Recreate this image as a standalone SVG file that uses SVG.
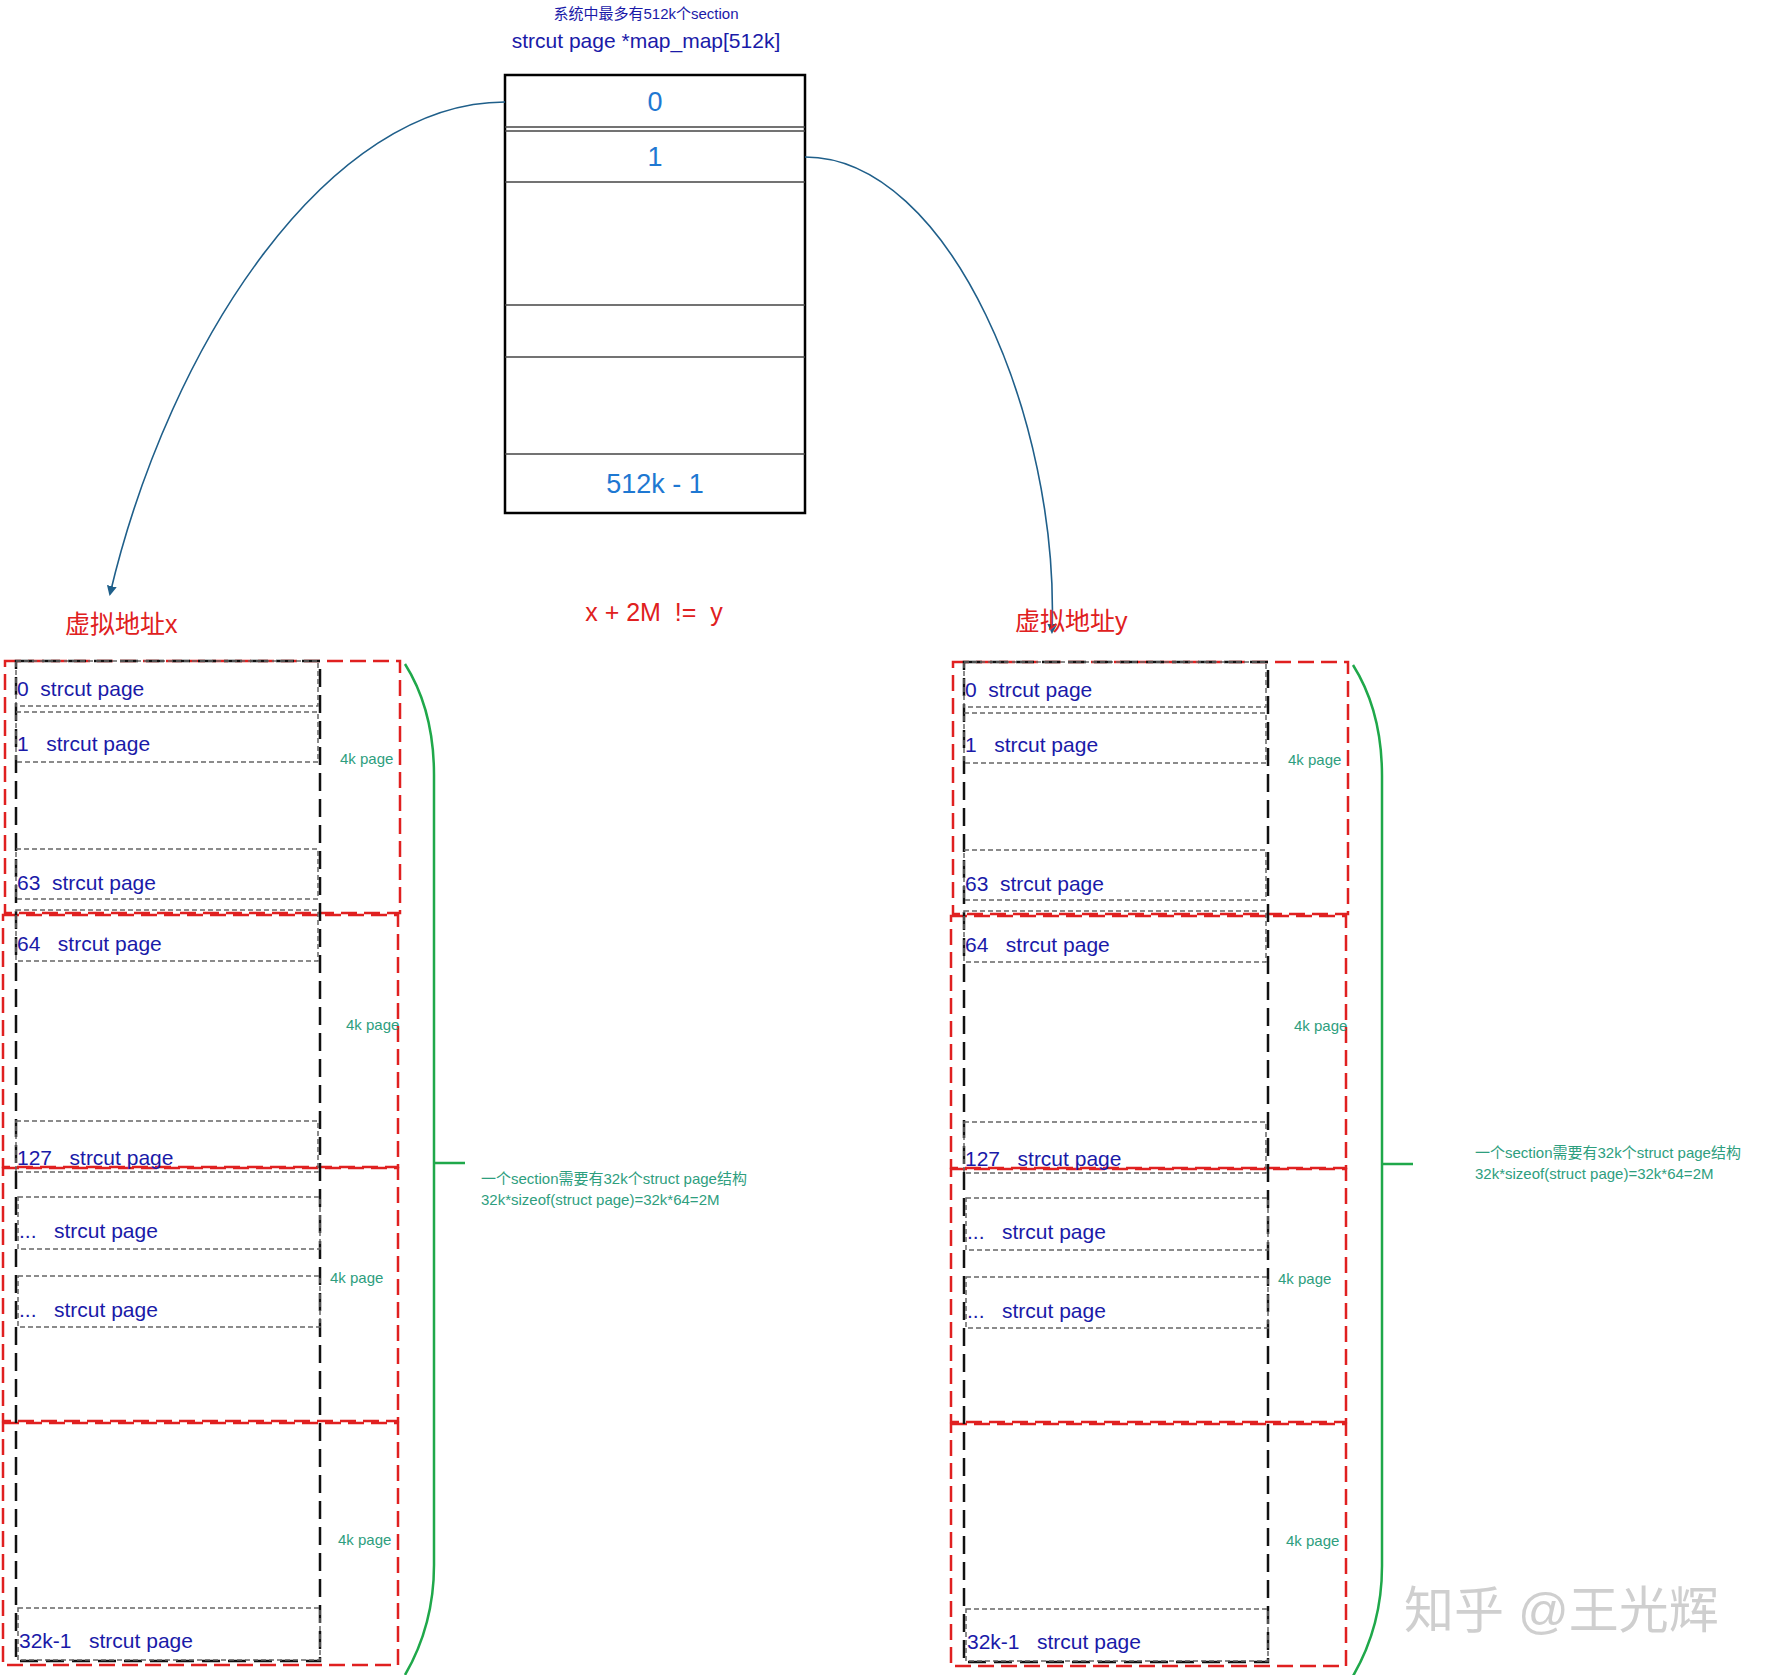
<svg xmlns="http://www.w3.org/2000/svg" width="1769" height="1675" viewBox="0 0 1769 1675">
<style>
text{font-family:"Liberation Sans","Noto Sans CJK SC",sans-serif;white-space:pre}
.cell{fill:#fff;stroke:#000;stroke-width:2.5}
.row{stroke:#444;stroke-width:1.5}
.num{fill:#1e78d2;font-size:27px;text-anchor:middle}
.red{fill:none;stroke:#e02020;stroke-width:2.5;stroke-dasharray:16 7}
.blk{fill:none;stroke:#111;stroke-width:2.5;stroke-dasharray:18 8}
.ent{fill:none;stroke:#666;stroke-width:1.5;stroke-dasharray:5 3}
.et{fill:#1a1aa8;font-size:21px}
.pg{fill:#2e9e7e;font-size:15px}
.grn{fill:none;stroke:#1fa84a;stroke-width:2.5}
.note{fill:#2e9e7e;font-size:15px}
.lab{fill:#e02020;font-size:25px}
.conn{fill:none;stroke:#1f5f8a;stroke-width:1.6}
</style>
<defs><marker id="ah" markerWidth="10" markerHeight="10" refX="8" refY="5" orient="auto" markerUnits="userSpaceOnUse"><path d="M0,0 L10,5 L0,10 z" fill="#1f5f8a"/></marker></defs>
<g id="title">
<text x="646" y="19" font-size="15" text-anchor="middle" fill="#1a1aa8">系统中最多有512k个section</text>
<text x="646" y="48" font-size="21" text-anchor="middle" fill="#1a1aa8">strcut page *map_map[512k]</text>
</g>
<g id="mapArray">
<rect class="cell" x="505" y="75" width="300" height="438"/>
<line class="row" x1="505" y1="127" x2="805" y2="127"/>
<line class="row" x1="505" y1="131" x2="805" y2="131"/>
<line class="row" x1="505" y1="182" x2="805" y2="182"/>
<line class="row" x1="505" y1="305" x2="805" y2="305"/>
<line class="row" x1="505" y1="357" x2="805" y2="357"/>
<line class="row" x1="505" y1="454" x2="805" y2="454"/>
<text class="num" x="655" y="111">0</text>
<text class="num" x="655" y="166">1</text>
<text class="num" x="655" y="493">512k - 1</text>
</g>
<g id="connectors">
<path class="conn" d="M505,102 C330,102 170,340 110,594" marker-end="url(#ah)"/>
<path class="conn" d="M805,157 C950,157 1060,420 1052,632" marker-end="url(#ah)"/>
</g>
<g id="labels">
<text class="lab" x="65" y="633">虚拟地址x</text>
<text class="lab" x="654" y="621" text-anchor="middle">x + 2M  !=  y</text>
<text class="lab" x="1015" y="630">虚拟地址y</text>
</g>
<g id="leftBlock">
<rect class="red" x="5" y="661" width="395" height="252"/>
<rect class="red" x="3" y="915" width="395" height="252"/>
<rect class="red" x="3" y="1168" width="395" height="253"/>
<rect class="red" x="3" y="1423" width="395" height="242"/>
<rect class="blk" x="16" y="661" width="304" height="1000"/>
<rect class="ent" x="16" y="661" width="302" height="45"/><text class="et" x="17" y="696">0  strcut page</text>
<rect class="ent" x="16" y="712" width="302" height="50"/><text class="et" x="17" y="751">1   strcut page</text>
<rect class="ent" x="16" y="849" width="302" height="50"/><text class="et" x="17" y="890">63  strcut page</text>
<rect class="ent" x="16" y="910" width="302" height="51"/><text class="et" x="17" y="951">64   strcut page</text>
<rect class="ent" x="16" y="1121" width="302" height="51"/><text class="et" x="17" y="1165">127   strcut page</text>
<rect class="ent" x="18" y="1197" width="302" height="52"/><text class="et" x="19" y="1238">...   strcut page</text>
<rect class="ent" x="18" y="1276" width="302" height="51"/><text class="et" x="19" y="1317">...   strcut page</text>
<rect class="ent" x="18" y="1608" width="302" height="52"/><text class="et" x="19" y="1648">32k-1   strcut page</text>
<text class="pg" x="340" y="764">4k page</text>
<text class="pg" x="346" y="1030">4k page</text>
<text class="pg" x="330" y="1283">4k page</text>
<text class="pg" x="338" y="1545">4k page</text>
<path class="grn" d="M405,664 Q434,710 434,775 L434,1565 Q434,1625 405,1675 M434,1163 L465,1163"/>
<text class="note" x="481" y="1184">一个section需要有32k个struct page结构</text>
<text class="note" x="481" y="1205">32k*sizeof(struct page)=32k*64=2M</text>
</g>
<g id="rightBlock" transform="translate(948,1)">
<rect class="red" x="5" y="661" width="395" height="252"/>
<rect class="red" x="3" y="915" width="395" height="252"/>
<rect class="red" x="3" y="1168" width="395" height="253"/>
<rect class="red" x="3" y="1423" width="395" height="242"/>
<rect class="blk" x="16" y="661" width="304" height="1000"/>
<rect class="ent" x="16" y="661" width="302" height="45"/><text class="et" x="17" y="696">0  strcut page</text>
<rect class="ent" x="16" y="712" width="302" height="50"/><text class="et" x="17" y="751">1   strcut page</text>
<rect class="ent" x="16" y="849" width="302" height="50"/><text class="et" x="17" y="890">63  strcut page</text>
<rect class="ent" x="16" y="910" width="302" height="51"/><text class="et" x="17" y="951">64   strcut page</text>
<rect class="ent" x="16" y="1121" width="302" height="51"/><text class="et" x="17" y="1165">127   strcut page</text>
<rect class="ent" x="18" y="1197" width="302" height="52"/><text class="et" x="19" y="1238">...   strcut page</text>
<rect class="ent" x="18" y="1276" width="302" height="51"/><text class="et" x="19" y="1317">...   strcut page</text>
<rect class="ent" x="18" y="1608" width="302" height="52"/><text class="et" x="19" y="1648">32k-1   strcut page</text>
<text class="pg" x="340" y="764">4k page</text>
<text class="pg" x="346" y="1030">4k page</text>
<text class="pg" x="330" y="1283">4k page</text>
<text class="pg" x="338" y="1545">4k page</text>
<path class="grn" d="M405,664 Q434,710 434,775 L434,1565 Q434,1625 405,1675 M434,1163 L465,1163"/>
<text class="note" x="527" y="1157">一个section需要有32k个struct page结构</text>
<text class="note" x="527" y="1178">32k*sizeof(struct page)=32k*64=2M</text>
</g>
<text x="1404" y="1628" font-size="50" fill="#bbb" fill-opacity="0.7">知乎 @王光辉</text>
</svg>
